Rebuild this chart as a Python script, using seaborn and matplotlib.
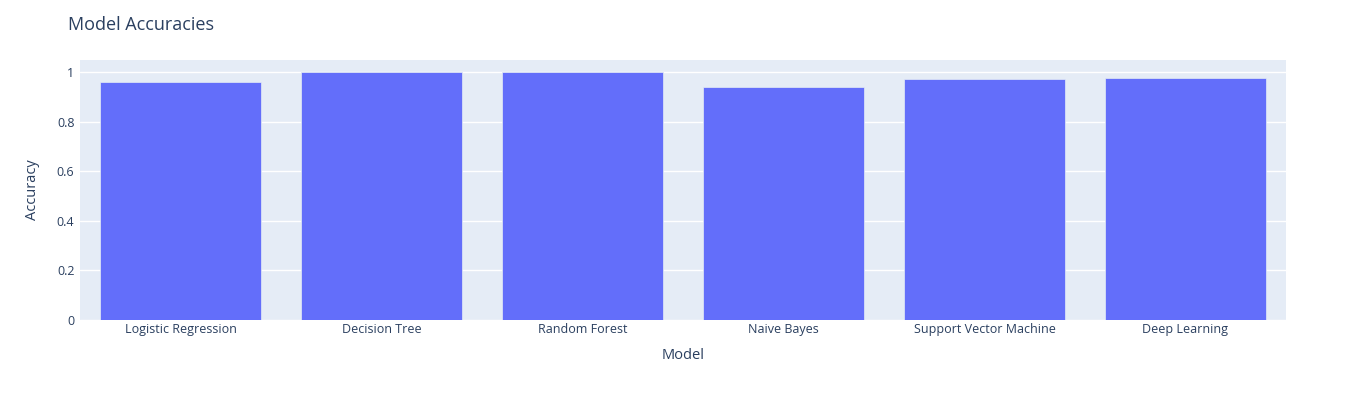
import matplotlib
matplotlib.use('Agg')
import matplotlib.pyplot as plt
import matplotlib.ticker as mticker
import seaborn as sns
import pandas as pd

models = ['Logistic Regression', 'Decision Tree', 'Random Forest',
          'Naive Bayes', 'Support Vector Machine', 'Deep Learning']
accuracy = [0.96, 1.0, 1.0, 0.94, 0.97, 0.976]

df = pd.DataFrame({'Model': models, 'Accuracy': accuracy})

sns.set_theme(style='whitegrid')
plt.rcParams['font.family'] = ['Open Sans', 'DejaVu Sans']

txt = '#2a3f5f'
fig = plt.figure(figsize=(13.66, 4), dpi=100)
ax = fig.add_axes([80 / 1366, 80 / 400, 1206 / 1366, 260 / 400])
ax.set_facecolor('#E5ECF6')

sns.barplot(data=df, x='Model', y='Accuracy', color='#636efa', width=0.8,
            saturation=1, edgecolor='#E5ECF6', linewidth=0.5, ax=ax)

ax.set_xlim(-0.5, 5.5)
ax.set_ylim(0, 1.0485)
ax.set_yticks([0, 0.2, 0.4, 0.6, 0.8, 1.0])
ax.yaxis.set_major_formatter(mticker.FuncFormatter(lambda v, p: '%g' % v))
ax.grid(axis='y', color='white', linewidth=1)
ax.grid(axis='x', visible=False)
for s in ax.spines.values():
    s.set_visible(False)
ax.tick_params(axis='both', length=0, labelsize=9, colors=txt, pad=4)
ax.tick_params(axis='x', pad=2)
ax.set_xlabel('Model', fontsize=10.5, color=txt, labelpad=9)
ax.set_ylabel('Accuracy', fontsize=10.5, color=txt, labelpad=12)

fig.text(68 / 1366, 1 - 25 / 400, 'Model Accuracies', fontsize=13, color=txt,
         va='center', ha='left')

fig.savefig('out.png', dpi=100, facecolor='white')
